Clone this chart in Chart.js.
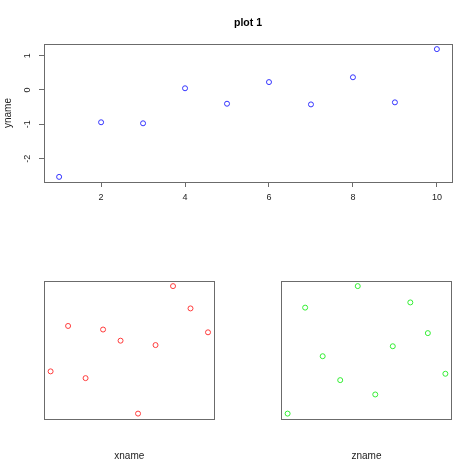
<!DOCTYPE html>
<html>
<head>
<meta charset="utf-8">
<script src="https://cdn.jsdelivr.net/npm/chart.js@4/dist/chart.umd.min.js"></script>
<style>
    html, body { margin: 0; padding: 0; background: #fff; overflow: hidden; }
    canvas { position: absolute; }
</style>
</head>
<body>
<canvas id="plot1" width="474" height="215" style="left:0;top:0"></canvas>
<canvas id="plotX" width="237" height="214" style="left:0;top:260px"></canvas>
<canvas id="plotZ" width="237" height="214" style="left:237px;top:260px"></canvas>
<script>
// Data for the charts
const xIndex = [1, 2, 3, 4, 5, 6, 7, 8, 9, 10];
const yValues = [-2.53, -0.94, -0.97, 0.05, -0.40, 0.23, -0.42, 0.37, -0.36, 1.19];
const xValues = [-0.66, 0.48, -0.83, 0.39, 0.11, -1.72, 0.00, 1.48, 0.92, 0.32];
const zValues = [-1.72, 0.94, -0.28, -0.88, 1.48, -1.24, -0.03, 1.07, 0.30, -0.72];
const xTicks = [2, 4, 6, 8, 10];
const yTicks = [-2, -1, 0, 1];

const axisColor = '#6b6b6b';
const textColor = '#222';
Chart.defaults.font.family = "'Liberation Sans', Arial, Helvetica, sans-serif";
Chart.defaults.animation = false;

// R style: data range padded by 4% on each side
function padRange(arr) {
    const lo = Math.min(...arr), hi = Math.max(...arr);
    const d = (hi - lo) * 0.04;
    return { min: lo - d, max: hi + d };
}

// box round the plot region
const boxPlugin = {
    id: 'box',
    beforeDatasetsDraw(chart) {
        const a = chart.chartArea;
        const ctx = chart.ctx;
        ctx.save();
        ctx.strokeStyle = axisColor;
        ctx.lineWidth = 1;
        ctx.strokeRect(Math.round(a.left) + 0.5, Math.round(a.top) + 0.5,
            Math.round(a.right - a.left), Math.round(a.bottom - a.top));
        ctx.restore();
    }
};

function points(values) {
    return xIndex.map((x, i) => ({ x: x, y: values[i] }));
}

function dataset(values, color) {
    return {
        data: points(values),
        pointStyle: 'circle',
        pointRadius: 2.5,
        pointHoverRadius: 2.5,
        borderWidth: 1,
        borderColor: color,
        backgroundColor: 'rgba(0,0,0,0)'
    };
}

// plot 1, with axes
new Chart(document.getElementById('plot1'), {
    type: 'scatter',
    data: { datasets: [dataset(yValues, '#3333ff')] },
    plugins: [boxPlugin],
    options: {
        responsive: false,
        layout: { padding: { top: 17.3, left: 0, right: 22, bottom: 0 } },
        plugins: {
            legend: { display: false },
            tooltip: { enabled: false },
            title: {
                display: true,
                text: 'plot 1',
                fullSize: false,
                color: '#000',
                font: { size: 10.5, weight: 'bold' },
                padding: { top: 0, bottom: 14.1 }
            }
        },
        scales: {
            x: {
                type: 'linear',
                ...padRange(xIndex),
                afterBuildTicks: s => { s.ticks = xTicks.map(v => ({ value: v })); },
                afterFit: s => { s.height = 33; },
                ticks: { color: textColor, font: { size: 9 }, padding: 5.3, maxRotation: 0, autoSkip: false },
                grid: { drawOnChartArea: false, drawTicks: true, tickLength: 5, color: axisColor },
                border: { display: false }
            },
            y: {
                type: 'linear',
                ...padRange(yValues),
                afterBuildTicks: s => { s.ticks = yTicks.map(v => ({ value: v })); },
                afterFit: s => { s.width = 44; },
                ticks: { color: textColor, font: { size: 9 }, padding: 7.5, minRotation: 90, maxRotation: 90, crossAlign: 'center', autoSkip: false },
                grid: { drawOnChartArea: false, drawTicks: true, tickLength: 5, color: axisColor },
                border: { display: false },
                title: { display: true, text: 'yname', color: textColor, font: { size: 10 }, padding: { top: 2, bottom: 0 } }
            }
        }
    }
});

// small plots without axes
function smallPlot(id, values, color, label, padLeft, padRight) {
    return new Chart(document.getElementById(id), {
        type: 'scatter',
        data: { datasets: [dataset(values, color)] },
        plugins: [boxPlugin],
        options: {
            responsive: false,
            layout: { padding: { top: 21, left: padLeft, right: padRight, bottom: 0 } },
            plugins: {
                legend: { display: false },
                tooltip: { enabled: false },
                title: { display: false }
            },
            scales: {
                x: {
                    type: 'linear',
                    ...padRange(xIndex),
                    afterFit: s => { s.height = 55.3; },
                    ticks: { display: false },
                    grid: { display: false },
                    border: { display: false },
                    title: { display: true, text: label, color: textColor, font: { size: 10 }, padding: { top: 0, bottom: 12 } }
                },
                y: {
                    type: 'linear',
                    display: false,
                    ...padRange(values)
                }
            }
        }
    });
}

smallPlot('plotX', xValues, '#ff3b3b', 'xname', 44.3, 22.7);
smallPlot('plotZ', zValues, '#33ee33', 'zname', 44.3, 22.3);
</script>
</body>
</html>
